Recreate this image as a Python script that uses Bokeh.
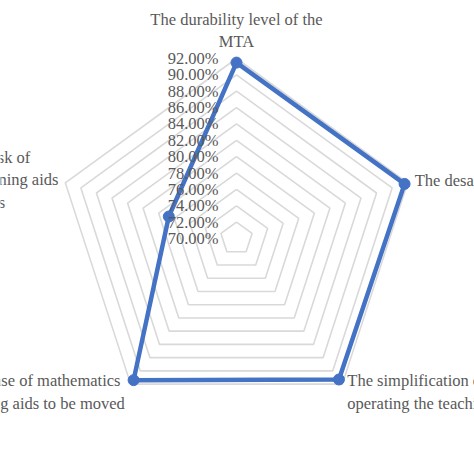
import numpy as np
from bokeh.plotting import figure
from bokeh.models import ColumnDataSource, Range1d
from bokeh.core.properties import value
from bokeh.embed import file_html
from bokeh.resources import INLINE

# ---- data ----
categories = [
    "The durability level of the\nMTA",
    "The desain of the MTA",
    "The simplification of\noperating the teaching aids",
    "The ease of mathematics\nteaching aids to be moved",
    "The minor risk of\nmathematics learning aids\nbreakages",
]
values = [91.5, 91.6, 91.3, 91.4, 78.7]
tick_values = [70, 72, 74, 76, 78, 80, 82, 84, 86, 88, 90, 92]
tick_labels = ["%.2f%%" % t for t in tick_values]

# ---- geometry / style ----
RMIN, RMAX = 70.0, 92.0
PX = 180.0  # pixels for full radius
W = H = 474
CX, CY = 236.0, 238.0  # centre in canvas pixels (from top-left)
FONT = "Liberation Serif"
GREY_TXT = "#595959"
GRID = "#d9d9d9"
BLUE = "#4472C4"

n = len(categories)
angles = np.pi / 2 - 2 * np.pi * np.arange(n) / n


def rad(v):
    return (np.asarray(v, dtype=float) - RMIN) / (RMAX - RMIN)


p = figure(width=W, height=H, output_backend="svg", toolbar_location=None,
           x_range=Range1d(-CX / PX, (W - CX) / PX),
           y_range=Range1d(-(H - CY) / PX, CY / PX),
           min_border=0, outline_line_color=None)
p.axis.visible = False
p.grid.visible = False
p.background_fill_color = "white"

# grid rings
for t in tick_values[1:]:
    r = rad(t)
    xs = list(r * np.cos(angles)) + [r * np.cos(angles[0])]
    ys = list(r * np.sin(angles)) + [r * np.sin(angles[0])]
    p.line(xs, ys, line_color=GRID, line_width=1.6)

# data polygon
r = rad(values)
dx = r * np.cos(angles)
dy = r * np.sin(angles)
p.line(list(dx) + [dx[0]], list(dy) + [dy[0]], line_color=BLUE, line_width=4.5,
       line_join="round")
p.scatter(dx, dy, size=11, fill_color=BLUE, line_color=BLUE)

# tick labels along the vertical axis
tsrc = ColumnDataSource(dict(x=[-18 / PX] * len(tick_values),
                             y=list(rad(tick_values)), t=tick_labels))
p.text("x", "y", text="t", source=tsrc, text_font=value(FONT),
       text_font_size="16.5px", text_color=GREY_TXT, text_align="right",
       text_baseline="middle")

# category labels: offsets (pixels) from the outer vertex
offsets = [(0, 28), (7, 2), (5, -8), (-92, -8), (-93, 3)]
aligns = ["center", "left", "left", "center", "center"]
for i in range(n):
    vx = np.cos(angles[i]) + offsets[i][0] / PX
    vy = np.sin(angles[i]) + offsets[i][1] / PX
    p.text([vx], [vy], text=[categories[i]], text_font=value(FONT),
           text_font_size="16.5px", text_color=GREY_TXT, text_align=aligns[i],
           text_baseline="middle", text_line_height=1.2)

open("out.html", "w").write(file_html(p, INLINE))
